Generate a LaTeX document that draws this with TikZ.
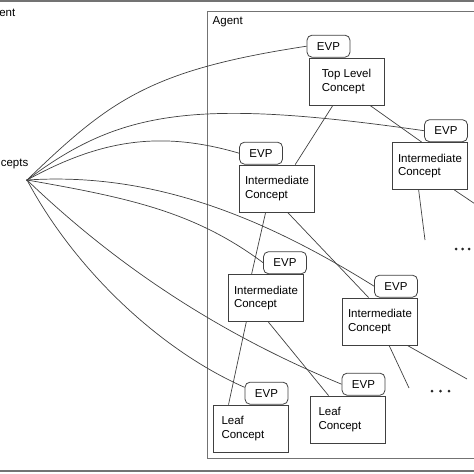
\documentclass[tikz,border=0pt]{standalone}
\usepackage{fontspec}
\setmainfont{Liberation Sans}
\usetikzlibrary{calc}

\begin{document}
\begin{tikzpicture}[x=1pt, y=-1pt]
    \tikzstyle{concept} = [rectangle, draw=black!75, line width=0.8pt, minimum width=75pt, minimum height=47pt, align=left, inner sep=3pt, font=\fontsize{11.5}{13.5}\selectfont]
    \tikzstyle{leaf} = [concept, text width=58pt]
    \tikzstyle{evp} = [rectangle, rounded corners=5pt, draw=black!75, line width=0.8pt, minimum width=43pt, minimum height=22pt, inner sep=0pt, font=\fontsize{11.5}{13.5}\selectfont]
    \tikzstyle{link} = [black!75, line width=0.7pt]
    \tikzstyle{frame} = [black!55, line width=1.5pt]
    \tikzstyle{label} = [inner sep=0pt, font=\fontsize{11.5}{13.5}\selectfont]
    \tikzstyle{dot} = [circle, fill=black!85, inner sep=0pt, minimum size=3pt]

    \useasboundingbox (0,0) rectangle (474,474);

    % Frames
    \draw[frame] (-10,1.2) rectangle (490,471);
    \draw[frame, line width=0.9pt] (207,11) rectangle (490,458);
    \node[label, anchor=base east] (envname) at (15.5,16) {ent};
    \node[label, anchor=base west] (agentname) at (212.5,24) {Agent};
    \node[label, anchor=base east] (sharedname) at (28.5,166.5) {cepts};
    \node[dot, minimum size=2pt] (hub) at (27,180) {};

    % Concepts
    \node[concept] (top) at (346.5,81.5) {Top Level\\Concept};
    \node[concept] (intR) at (430,166) {Intermediate\\Concept};
    \node[concept] (intL) at (277,188.5) {Intermediate\\Concept};
    \node[concept] (intM) at (266,298) {Intermediate\\Concept};
    \node[concept] (intLR) at (380,321.5) {Intermediate\\Concept};
    \node[leaf] (leafR) at (347.5,419.5) {Leaf\\Concept};
    \node[leaf] (leafL) at (250.5,428.5) {Leaf\\Concept};

    % EVP tags
    \node[evp, anchor=south west, xshift=-2pt] (evpT) at (top.north west) {EVP};
    \node[evp, anchor=south east] (evpR) at (intR.north east) {EVP};
    \node[evp, anchor=south west] (evpL) at (intL.north west) {EVP};
    \node[evp, anchor=south east, xshift=3pt] (evpM) at (intM.north east) {EVP};
    \node[evp, anchor=south east] (evpLR) at (intLR.north east) {EVP};
    \node[evp, anchor=south east] (evpLeafR) at (leafR.north east) {EVP};
    \node[evp, anchor=south east] (evpLeafL) at (leafL.north east) {EVP};

    % Hierarchy
    \coordinate (trailR) at (425,240);
    \coordinate (offR) at (490,214);
    \coordinate (trailLR) at (409,388);
    \coordinate (offLR) at (467,379);
    \draw[link] ($(top.south west)!.32!(top.south east)$) -- ($(intL.north west)!.74!(intL.north east)$);
    \draw[link] ($(top.south west)!.81!(top.south east)$) -- ($(intR.north west)!.39!(intR.north east)$);
    \draw[link] ($(intR.south west)!.35!(intR.south east)$) -- (trailR);
    \draw[link] ($(intR.south west)!.82!(intR.south east)$) -- (offR);
    \draw[link] ($(intL.south west)!.35!(intL.south east)$) -- ($(intM.north west)!.31!(intM.north east)$);
    \draw[link] ($(intL.south west)!.64!(intL.south east)$) -- ($(intLR.north west)!.35!(intLR.north east)$);
    \draw[link] ($(intM.south west)!.24!(intM.south east)$) -- ($(leafL.north west)!.21!(leafL.north east)$);
    \draw[link] ($(intM.south west)!.53!(intM.south east)$) -- ($(leafR.north west)!.25!(leafR.north east)$);
    \draw[link] ($(intLR.south west)!.62!(intLR.south east)$) -- (trailLR);
    \draw[link] ($(intLR.south west)!.86!(intLR.south east)$) -- (offLR);

    % Links from the shared concepts
    \draw[link] (hub.center) .. controls (110,100) and (150,70) .. (evpT.west);
    \draw[link] (hub.center) .. controls (120,110) and (195,98) .. (evpR.west);
    \draw[link] (hub.center) .. controls (100,140) and (160,130) .. (evpL.west);
    \draw[link] (hub.center) .. controls (130,198) and (195,212) .. (evpM.west);
    \draw[link] (hub.center) .. controls (150,172) and (260,215) .. (evpLR.west);
    \draw[link] (hub.center) .. controls (100,250) and (200,326) .. (evpLeafR.west);
    \draw[link] (hub.center) .. controls (75,270) and (160,350) .. (evpLeafL.165);

    % More concepts
    \foreach \i/\x in {1/456,2/462.5,3/469} \node[dot] (moreR\i) at (\x,249) {};
    \foreach \i/\x in {1/432,2/440.5,3/449} \node[dot] (moreLR\i) at (\x,391) {};
\end{tikzpicture}
\end{document}
